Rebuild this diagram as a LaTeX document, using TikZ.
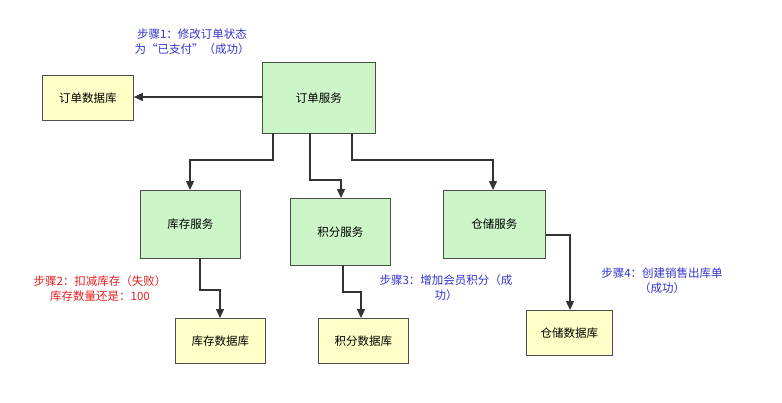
\documentclass[tikz,border=0pt]{standalone}
\usepackage{fontspec}
\setmainfont{Noto Sans CJK SC}
\usetikzlibrary{arrows.meta}
\definecolor{gfill}{HTML}{CCF5C8}
\definecolor{yfill}{HTML}{FFFFC8}
\definecolor{bluet}{HTML}{3333CC}
\definecolor{redt}{HTML}{E02020}
\begin{document}
\begin{tikzpicture}[x=1pt,y=-1pt,
 gbox/.style={draw=black!70,fill=gfill,line width=0.8pt,minimum width=#1,font=\fontsize{11.5}{13}\selectfont},
 ybox/.style={draw=black!70,fill=yfill,line width=0.8pt,minimum width=90pt,minimum height=45pt,font=\fontsize{11.5}{13}\selectfont},
 conn/.style={draw=black!80,line width=1.4pt,-{Triangle[length=9pt,width=8pt]}},
 note/.style={font=\fontsize{11.5}{15}\selectfont,align=center}]
\useasboundingbox (0,0) rectangle (782,402);
\node[ybox,anchor=north west,minimum width=91pt] (odb) at (42,75) {订单数据库};
\node[gbox=113pt,anchor=north west,minimum height=71pt] (os) at (262,62) {订单服务};
\node[gbox=100pt,anchor=north west,minimum height=68pt] (ks) at (140,190) {库存服务};
\node[gbox=100pt,anchor=north west,minimum height=67pt] (js) at (290,198) {积分服务};
\node[gbox=102pt,anchor=north west,minimum height=68pt] (cs) at (443,190) {仓储服务};
\node[ybox,anchor=north west] (kdb) at (175,318) {库存数据库};
\node[ybox,anchor=north west] (jdb) at (318,318) {积分数据库};
\node[ybox,anchor=north west,minimum width=86pt] (cdb) at (526,310) {仓储数据库};
\draw[conn] (os.west |- 0,97) -- (odb.east |- 0,97);
\draw[conn] (273,133) -- (273,160) -- (190,160) -- (ks.north -| 190,0);
\draw[conn] (310,133) -- (310,180) -- (341,180) -- (js.north -| 341,0);
\draw[conn] (352,133) -- (352,160) -- (493,160) -- (cs.north -| 493,0);
\draw[conn] (200,258) -- (200,290) -- (220,290) -- (kdb.north -| 220,0);
\draw[conn] (343,265) -- (343,292) -- (361,292) -- (jdb.north -| 361,0);
\draw[conn] (cs.east |- 0,235) -- (570,235) -- (cdb.north -| 570,0);
\node[note,text=bluet] (n1) at (192,42) {步骤1：修改订单状态\\为“已支付”（成功）};
\node[note,text=redt] (n2) at (100,289) {步骤2：扣减库存（失败）\\库存数量还是：100};
\node[note,text=bluet] (n3) at (446,288) {步骤3：增加会员积分（成\\功）};
\node[note,text=bluet] (n4) at (662,281) {步骤4：创建销售出库单\\（成功）};
\end{tikzpicture}
\end{document}
